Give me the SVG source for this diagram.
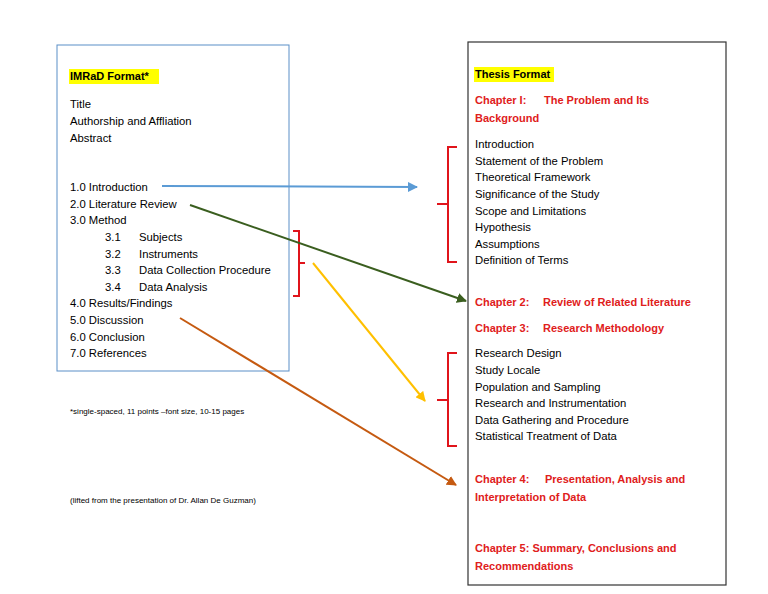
<svg xmlns="http://www.w3.org/2000/svg" width="768" height="594" viewBox="0 0 768 594">
<style>
text{font-family:"Liberation Sans",Arial,sans-serif;font-size:11.3px;fill:#000}
.h{font-weight:bold;font-size:11px}
.r{font-weight:bold;font-size:11px;fill:#e0201b}
.s{font-size:8px}
.br{fill:none;stroke:#e0141b;stroke-width:2}
.c{fill:none;stroke-width:2}
</style>
<defs>
<marker id="ab" viewBox="0 0 10 10" refX="9" refY="5" markerWidth="5" markerHeight="5" orient="auto"><path d="M0,0L10,5L0,10z" fill="#5b9bd5"/></marker>
<marker id="ag" viewBox="0 0 10 10" refX="9" refY="5" markerWidth="5" markerHeight="5" orient="auto"><path d="M0,0L10,5L0,10z" fill="#3a5e1f"/></marker>
<marker id="ay" viewBox="0 0 10 10" refX="9" refY="5" markerWidth="5" markerHeight="5" orient="auto"><path d="M0,0L10,5L0,10z" fill="#ffc000"/></marker>
<marker id="ao" viewBox="0 0 10 10" refX="9" refY="5" markerWidth="5" markerHeight="5" orient="auto"><path d="M0,0L10,5L0,10z" fill="#c55a11"/></marker>
</defs>
<rect width="768" height="594" fill="#fff"/>
<g id="imrad">
<rect x="57" y="45" width="232" height="326" fill="none" stroke="#5b8fc7" stroke-width="1"/>
<rect x="69" y="69" width="90" height="15" fill="#ffff00"/>
<text class="h" x="70" y="80">IMRaD Format*</text>
<text x="70" y="108">Title</text>
<text x="70" y="125">Authorship and Affliation</text>
<text x="70" y="142">Abstract</text>
<text x="70" y="191">1.0 Introduction</text>
<text x="70" y="208">2.0 Literature Review</text>
<text x="70" y="224">3.0 Method</text>
<text x="105" y="241">3.1</text><text x="139" y="241">Subjects</text>
<text x="105" y="258">3.2</text><text x="139" y="258">Instruments</text>
<text x="105" y="274">3.3</text><text x="139" y="274">Data Collection Procedure</text>
<text x="105" y="291">3.4</text><text x="139" y="291">Data Analysis</text>
<text x="70" y="307">4.0 Results/Findings</text>
<text x="70" y="324">5.0 Discussion</text>
<text x="70" y="341">6.0 Conclusion</text>
<text x="70" y="357">7.0 References</text>
</g>
<g id="notes">
<text class="s" x="70" y="414">*single-spaced, 11 points –font size, 10-15 pages</text>
<text class="s" x="70" y="503">(lifted from the presentation of Dr. Allan De Guzman)</text>
</g>
<g id="thesis">
<rect x="468" y="42" width="258" height="543" fill="none" stroke="#333" stroke-width="1.2"/>
<rect x="474" y="67" width="80" height="15" fill="#ffff00"/>
<text class="h" x="475" y="78">Thesis Format</text>
<text class="r" x="475" y="104">Chapter I:</text><text class="r" x="544" y="104">The Problem and Its</text>
<text class="r" x="475" y="122">Background</text>
<text x="475" y="148">Introduction</text>
<text x="475" y="165">Statement of the Problem</text>
<text x="475" y="181">Theoretical Framework</text>
<text x="475" y="198">Significance of the Study</text>
<text x="475" y="215">Scope and Limitations</text>
<text x="475" y="231">Hypothesis</text>
<text x="475" y="248">Assumptions</text>
<text x="475" y="264">Definition of Terms</text>
<text class="r" x="475" y="306">Chapter 2:</text><text class="r" x="543" y="306">Review of Related Literature</text>
<text class="r" x="475" y="332">Chapter 3:</text><text class="r" x="543" y="332">Research Methodology</text>
<text x="475" y="357">Research Design</text>
<text x="475" y="374">Study Locale</text>
<text x="475" y="391">Population and Sampling</text>
<text x="475" y="407">Research and Instrumentation</text>
<text x="475" y="424">Data Gathering and Procedure</text>
<text x="475" y="440">Statistical Treatment of Data</text>
<text class="r" x="475" y="483">Chapter 4:</text><text class="r" x="545" y="483">Presentation, Analysis and</text>
<text class="r" x="475" y="501">Interpretation of Data</text>
<text class="r" x="475" y="552">Chapter 5: Summary, Conclusions and</text>
<text class="r" x="475" y="570">Recommendations</text>
</g>
<g id="brackets">
<path class="br" d="M457,147H448V262H457M448,204H437"/>
<path class="br" d="M457,353H448V446H457M448,400H437"/>
<path class="br" d="M293,231H299V296H293M299,263H305"/>
</g>
<g id="connectors">
<path class="c" stroke="#5b9bd5" d="M162,186L417,187" marker-end="url(#ab)"/>
<path class="c" stroke="#3a5e1f" d="M190,205L466,301" marker-end="url(#ag)"/>
<path class="c" stroke="#ffc000" d="M313,263L425,401" marker-end="url(#ay)"/>
<path class="c" stroke="#c55a11" d="M180,318L456,485" marker-end="url(#ao)"/>
</g>
</svg>
